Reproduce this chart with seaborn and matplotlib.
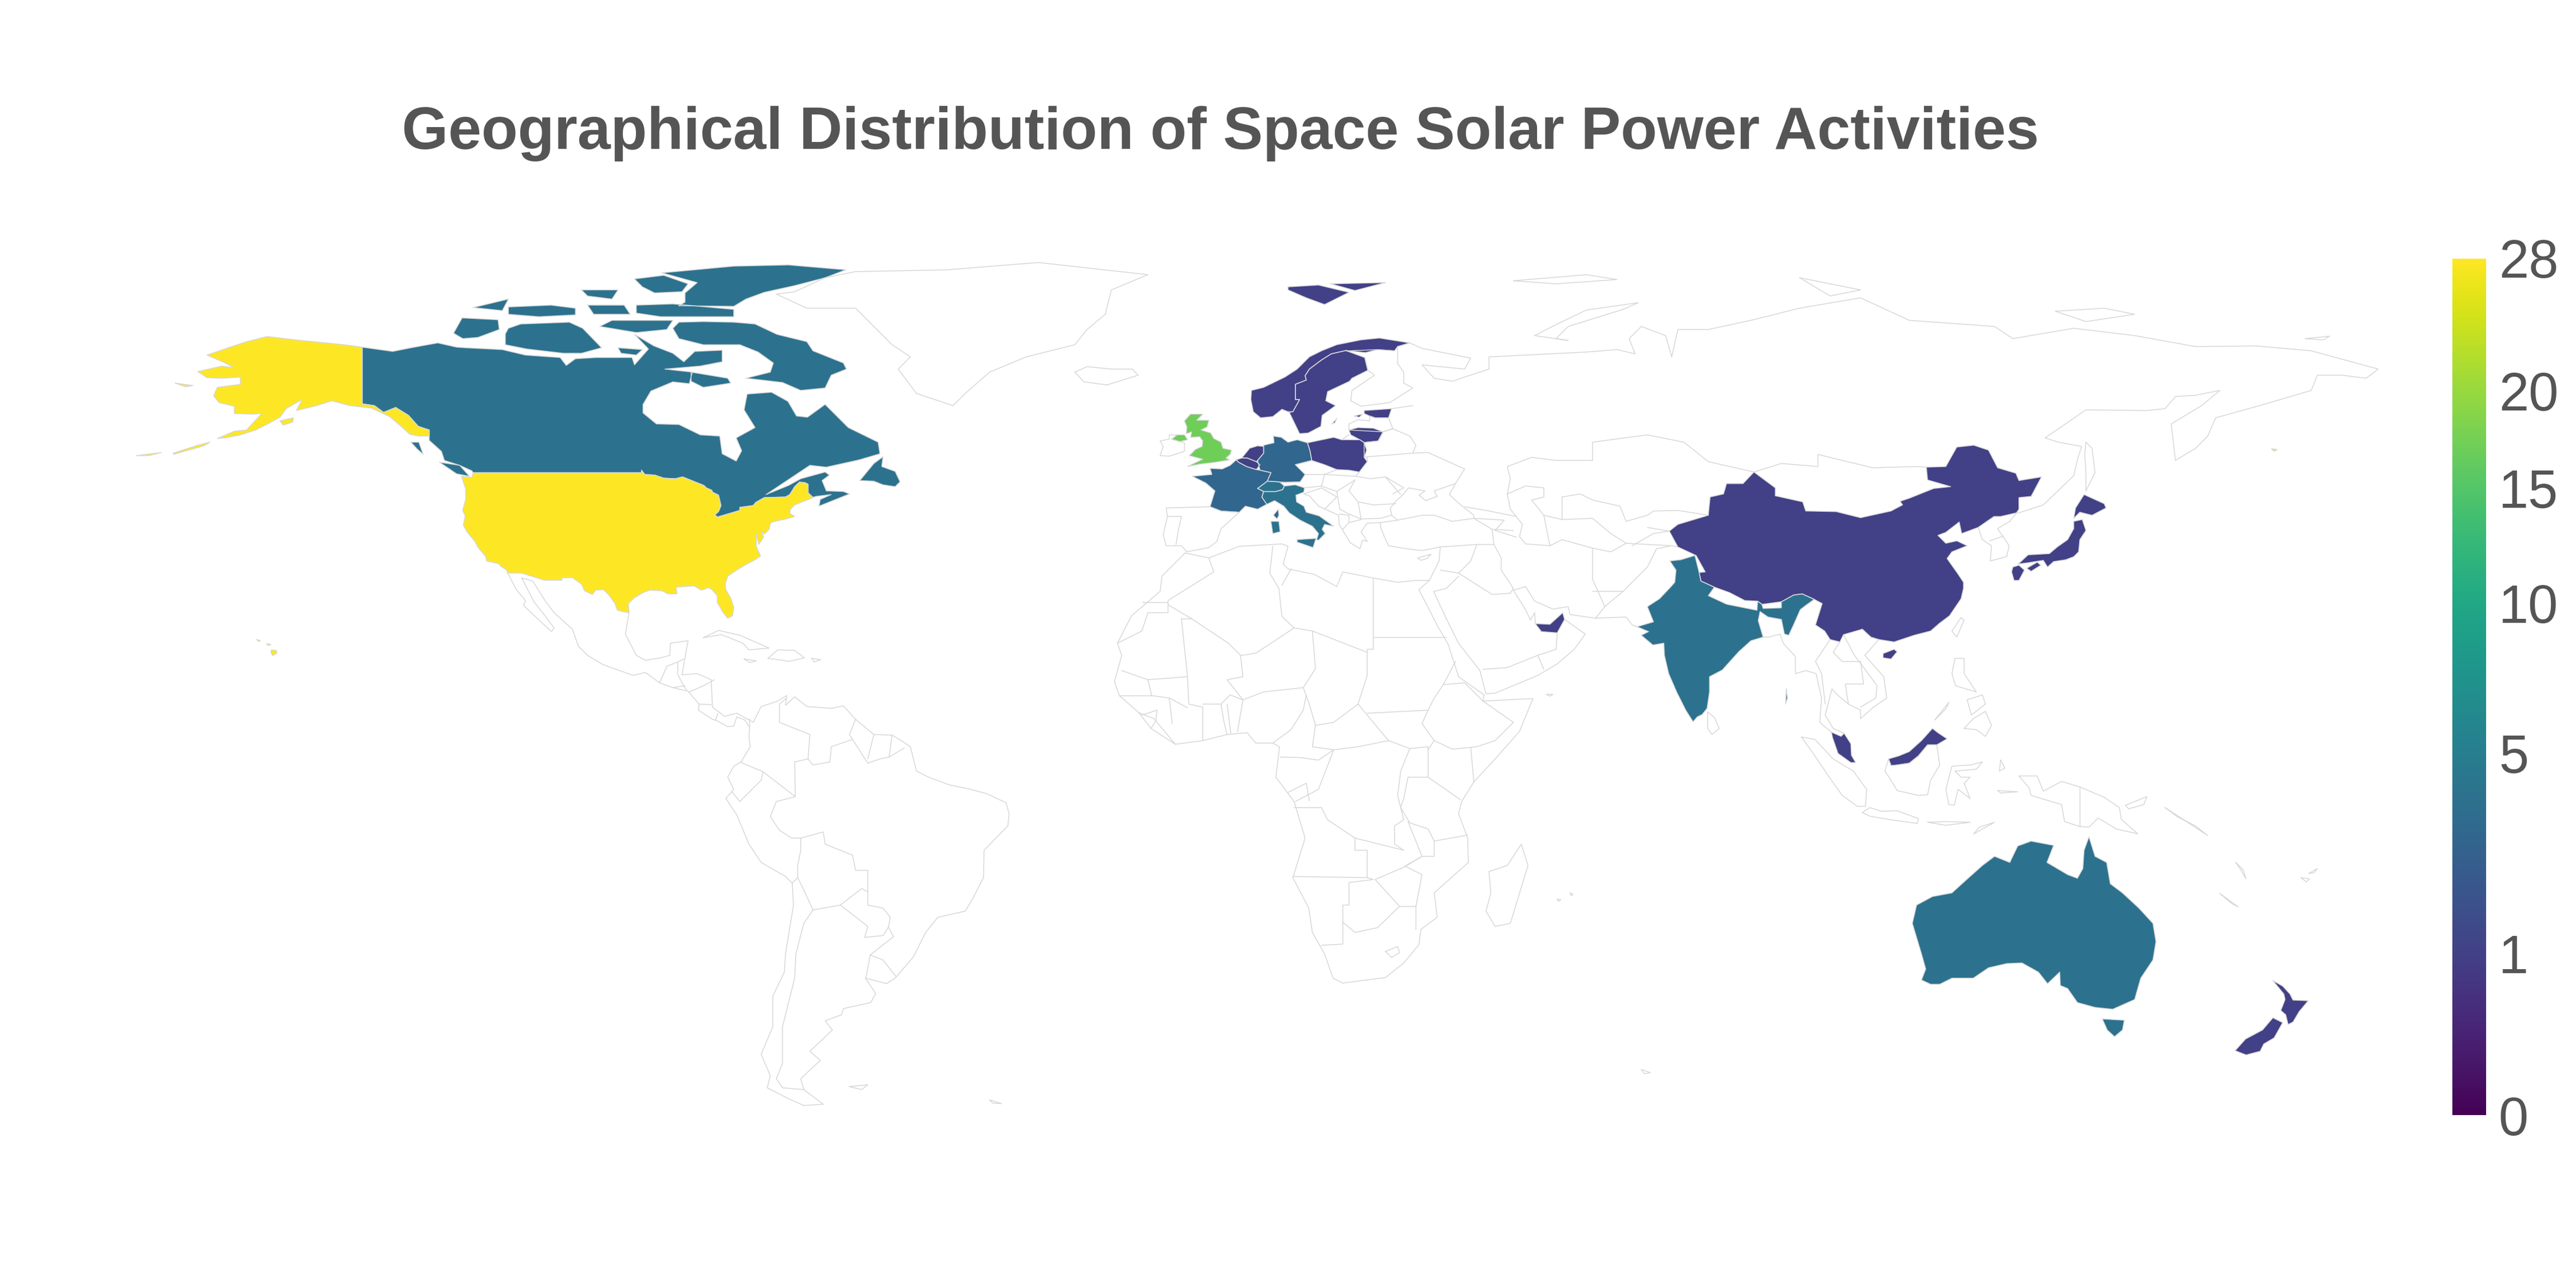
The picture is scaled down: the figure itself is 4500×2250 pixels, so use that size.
"""Geographical distribution of space solar power activities."""
import matplotlib
matplotlib.use("Agg")
import matplotlib.pyplot as plt
from matplotlib.cm import ScalarMappable
from matplotlib.colors import FuncNorm
import numpy as np
import pandas as pd
import seaborn as sns

sns.set_theme(style="white")
plt.rcParams["font.family"] = ["Liberation Sans", "DejaVu Sans"]

GREY = "#d6d6d6"
TEXT = "#555555"
TITLE = "Geographical Distribution of Space Solar Power Activities"

# activity counts
COUNTRIES = ["USA", "Canada", "UK", "Norway", "Sweden", "Estonia", "Lithuania", "Poland", "Germany",
             "Netherlands", "Belgium", "France", "Switzerland", "Italy", "China", "India", "Japan",
             "Malaysia", "UAE", "Australia", "New Zealand"]
ACTIVITIES = [28, 4, 17, 1, 1, 1, 1, 1, 3, 1, 1, 3, 4, 4, 1, 4, 1, 1, 1, 4, 1]
CB_TICKS = [0, 1, 5, 10, 15, 20, 28]

# outlines, all in (lon, lat)
US_MAIN = [(-124.7,48.4),(-123,48.2),(-122.8,49),(-95.15,49),(-95.15,49.4),(-94.6,48.7),(-93,48.6),(-91.5,48.1),(-89.6,48),(-88.4,48.3),(-84.9,46.9),(-84.5,46.5),(-83.6,46.1),(-83.5,45.8),(-82.5,45.3),(-82.1,43.6),(-82.5,42.6),(-83.1,42.1),(-82.7,41.7),(-79,42.8),(-79,43.3),(-76.8,43.6),(-76.4,44.1),(-75,44.9),(-71.5,45),(-70.8,45.4),(-70.3,46.2),(-70,46.7),(-69.2,47.45),(-68.3,47.35),(-67.8,47.1),(-67.8,45.7),(-67,44.9),(-68.5,44.3),(-70,43.7),(-70.7,43),(-70.8,42.3),(-70,41.8),(-71.4,41.4),(-73.7,40.9),(-74,40.6),(-74.2,39.7),(-75,38.9),(-75.5,39.5),(-75.1,38.4),(-75.9,37.2),(-76.3,39),(-76.3,36.9),(-75.6,35.3),(-76.5,34.7),(-78,33.9),(-79.2,33.2),(-81,32),(-81.4,30.7),(-81.3,29.8),(-80.5,28.4),(-80,26.9),(-80.2,25.5),(-81,25.1),(-81.8,26.1),(-82.7,27.7),(-82.7,28.8),(-83.7,29.9),(-84.2,30.1),(-85.3,29.7),(-86.5,30.4),(-88,30.3),(-89.5,30.2),(-89.3,29.1),(-90.8,29.1),(-91.8,29.6),(-93.8,29.7),(-94.9,29.3),(-96.4,28.4),(-97.3,27.5),(-97.2,25.96),(-99.1,26.4),(-99.5,27.5),(-100.5,28.9),(-101.4,29.8),(-102.7,29.7),(-103.2,29),(-104.5,29.6),(-105,30.7),(-106.5,31.75),(-108.2,31.75),(-108.2,31.33),(-111.07,31.33),(-114.8,32.5),(-117.1,32.53),(-117.3,33),(-118.4,33.75),(-118.5,34.03),(-120.6,34.5),(-120.7,35.2),(-121.9,36.6),(-122.5,37.7),(-123.8,39.3),(-124.4,40.4),(-124.1,41.9),(-124.5,42.8),(-124,44.7),(-124,46.3)]
ALASKA = [(-141,69.6),(-141,60.3),(-139,60),(-137.5,58.9),(-135.5,59.7),(-133.4,58.4),(-131.8,56.6),(-130,56),(-130,55),(-131.7,55),(-133.2,55.3),(-134.5,56.5),(-136.5,58.2),(-139.5,59.6),(-143,60),(-146,60.8),(-148.5,60),(-151.8,59.2),(-150.9,61),(-153.5,59.5),(-154.5,58.1),(-156.5,57),(-158.5,56),(-161,55.2),(-163.5,54.7),(-164.8,54.6),(-162,55.8),(-160,56),(-157.5,58.7),(-159,58.6),(-162,58.7),(-162,59.9),(-164.5,60.5),(-165.4,61.6),(-164.8,63),(-161,63.5),(-161,64.7),(-164,64.5),(-166.5,64.6),(-168,65.6),(-164,66.5),(-162,66.2),(-163.7,67.1),(-166.5,68.3),(-163,69.5),(-160,70.5),(-156.6,71.35),(-152,70.8),(-148,70.4),(-144,70)]
KODIAK = [(-154.5,57.5),(-152.3,58),(-152.4,57.3),(-154,56.8)]
ST_LAWRENCE = [(-171.7,63.7),(-168.8,63.3),(-170,63.1)]
ALEUT_EAST = [(-172,52.2),(-168,53.5),(-166,54),(-167,53.4),(-172,52)]
ALEUT_WEST = [(-178,51.8),(-174,52.3),(-176,51.8)]
ATTU = [(172.5,52.9),(173.4,52.8),(172.9,52.5)]
HAWAII = [(-155.9,19.9),(-155.1,19.8),(-155,19.4),(-155.7,18.95),(-156,19.5)]
MAUI = [(-156.7,20.9),(-156,20.8),(-156.4,20.6)]
OAHU = [(-158.3,21.6),(-157.7,21.4),(-158.1,21.3)]
CANADA_MAIN = [(-141,69.6),(-136,68.9),(-133,69.5),(-128.6,70.3),(-125.5,69.6),(-124,69.5),(-118,69.2),(-114.2,68.3),(-108.5,67.9),(-107.5,66.6),(-106,67.7),(-102.6,67.9),(-96.7,67.9),(-96.3,66.7),(-94,69.3),(-96.3,71.7),(-93.1,69.8),(-90,68.6),(-88.2,67.2),(-86.4,68.9),(-81.9,69.1),(-81.9,67.2),(-85.5,66.5),(-91.3,66),(-86.8,65.5),(-87.3,63.6),(-90,63.9),(-93.6,62.4),(-94.9,60.2),(-94.9,58.8),(-92.7,57),(-89,56.9),(-85.5,55.2),(-82.3,55),(-81.9,52.1),(-79.6,50.9),(-78.7,52.6),(-79.6,54.7),(-76.5,56.4),(-78.3,59.3),(-77.8,61.9),(-73.8,62.2),(-71.1,60.7),(-69.7,58.3),(-67.9,58.1),(-65,60.2),(-61.2,56.4),(-56.3,54),(-56,52.1),(-59.4,51.1),(-64.8,49.9),(-67.5,50.2),(-71.1,47.8),(-74.7,45.4),(-71,46.9),(-69,48),(-65,49.1),(-64.3,48.6),(-65.5,47.7),(-64.8,46),(-62,45.9),(-61,45.5),(-66,43.5),(-65.8,44.6),(-64,45.4),(-66.5,45.1),(-67,44.95),(-67.8,45.7),(-67.8,47.1),(-68.3,47.35),(-69.2,47.45),(-70,46.7),(-70.3,46.2),(-70.8,45.4),(-71.5,45),(-75,44.9),(-76.4,44.1),(-76.8,43.6),(-79,43.3),(-79,42.8),(-82.7,41.7),(-83.1,42.1),(-82.5,42.6),(-82.1,43.6),(-82.5,45.3),(-83.5,45.8),(-83.6,46.1),(-84.5,46.5),(-84.9,46.9),(-88.4,48.3),(-89.6,48),(-91.5,48.1),(-93,48.6),(-94.6,48.7),(-95.15,49.4),(-95.15,49),(-122.8,49),(-123,49.3),(-125,50.2),(-127.5,51),(-128,52.5),(-130,54.3),(-130,55),(-130,56),(-131.8,56.6),(-133.4,58.4),(-135.5,59.7),(-137.5,58.9),(-139,60),(-141,60.3)]
BAFFIN = [(-80,73.7),(-76.5,73.4),(-72.9,71.7),(-68,70.5),(-67,69),(-62,67),(-61.5,66),(-64,65),(-65,62.9),(-69,62.5),(-72,63.8),(-78,64.5),(-74,65.5),(-73.5,67),(-76,68.8),(-79,70),(-85,70),(-89,71),(-90,72.7),(-89,73.7),(-85,73.8)]
VICTORIA = [(-117.5,71.8),(-117.5,70),(-114,69.3),(-108,68.6),(-105,68.6),(-101.7,69.5),(-104.8,72.7),(-107,73.7),(-115,73.4),(-117,72.7)]
BANKS = [(-126,71.9),(-124.6,74.4),(-118.7,74.1),(-118.5,72.5),(-122,71.2),(-124.5,71)]
ELLESMERE = [(-89,76.4),(-80,76.3),(-78,77.5),(-75,78.6),(-70,79.7),(-65,81),(-61.6,82.3),(-71,83.1),(-80,82.9),(-91.8,81.8),(-86,80.2),(-88,78.5),(-88,77)]
AXEL = [(-96.3,80.8),(-91.5,81.4),(-87.5,80),(-88.5,78.7),(-93,78.5),(-95,79.5)]
DEVON = [(-96,76.5),(-90,76.7),(-80,75.8),(-80,74.6),(-92,74.6),(-96,75.2)]
MELVILLE = [(-117,76.2),(-110,76.5),(-106,76),(-106,74.9),(-112,74.6),(-117,75)]
BATHURST = [(-104,76.5),(-98,76.5),(-97,75),(-103,75)]
SOMERSET = [(-100,74),(-90,74),(-91,72.5),(-96,72),(-102,73)]
SOUTHAMPTON = [(-87,65.5),(-81,64.5),(-80.5,63.7),(-85,63),(-87,64)]
PATRICK = [(-122.8,76.1),(-117,77.5),(-118,75.6)]
RINGNES = [(-105,79),(-99,79),(-100,77.5),(-104,78)]
KING_WILLIAM = [(-99,69.5),(-95,69.2),(-96,68.3),(-98.5,68.6)]
NEWFOUNDLAND = [(-59.3,47.7),(-57,50.5),(-55.5,51.6),(-55.7,50),(-53.5,49.2),(-52.7,47.5),(-53.5,46.7),(-55.5,47),(-57,47.6)]
VANCOUVER = [(-128.3,50.7),(-125,50.2),(-123.4,48.4),(-125.5,48.8)]
HAIDA = [(-133,54),(-131.7,54),(-131,52),(-132,52.9)]
SVALBARD = [(11,79.5),(16,79.8),(21,78.6),(17,76.6),(14,77.7),(11,79)]
NORDAUST = [(18,80),(27,80.2),(22,78.9)]
NORWAY_MAIN = [(4.9,61),(5,62.5),(7,63),(10.5,64.7),(12.5,66),(14.5,68),(16.5,69),(19,70),(23,70.8),(26,71.1),(31,70.3),(29,69.7),(28.5,69),(25.7,69.2),(23.7,68.7),(20.5,69.05),(18.1,68.5),(16.5,67.5),(14.5,66),(13.8,64.9),(14,64.2),(12.2,63.5),(12.2,61),(12.9,61),(11.8,59),(11,59),(10,59.4),(8.5,58.2),(6.5,58),(5.3,59)]
SWEDEN_MAIN = [(11.2,58.9),(11.8,59),(12.9,61),(12.2,61),(12.2,63.5),(14,64.2),(13.8,64.9),(14.5,66),(16.5,67.5),(18.1,68.5),(20.5,69.05),(23.6,67.9),(24.1,65.8),(21.5,64.5),(21.1,64),(17.5,62.3),(17.2,60.8),(18.8,60),(16.6,58.4),(16.4,56.6),(14.3,55.5),(12.9,55.4)]
GOTLAND = [(18.2,57),(19,57.9),(18.7,57.2)]
ESTONIA_MAIN = [(23.5,59.2),(28,59.5),(27.5,58),(25.3,58),(24.4,58.3),(23.5,58.7)]
SAAREMAA = [(21.9,58.3),(23.2,58.6),(22.7,58.1)]
LITHUANIA_MAIN = [(21,56),(22.5,56.4),(25,56.3),(26.6,55.7),(25.8,54.2),(23.5,53.95),(22.8,54.4),(21.3,55.2)]
POLAND_MAIN = [(14.2,53.9),(18.5,54.8),(19.8,54.4),(22.8,54.4),(23.5,53.95),(23.9,52.7),(23.5,51.5),(24,50.8),(22.7,49.1),(21,49.4),(19,49.5),(17,50.3),(14.9,51),(14.6,52.6)]
GERMANY_MAIN = [(7,53.5),(8.7,53.9),(8.6,55),(9.9,54.8),(11,54),(12.5,54.4),(14.2,53.9),(14.6,52.6),(14.9,51),(12.2,50.3),(13.8,48.7),(13,47.5),(10.5,47.4),(7.6,47.6),(8.2,49),(6.4,49.4),(6,51),(7,52.2)]
NETHERLANDS_MAIN = [(3.4,51.4),(4.7,53),(6,53.4),(7,53.3),(7,52.2),(6,51),(5.8,50.8),(4.3,51.4)]
BELGIUM_MAIN = [(2.5,51.1),(3.4,51.4),(4.3,51.4),(5.8,50.8),(6.4,50.3),(5.8,49.5),(4.2,50),(2.9,50.7)]
FRANCE_MAIN = [(2.5,51.1),(2.9,50.7),(4.2,50),(5.8,49.5),(6.4,49.4),(8.2,49),(7.6,47.6),(6,46.4),(7,45.9),(6.7,45),(7.5,43.8),(6,43),(4,43.5),(3,42.5),(0,42.7),(-1.8,43.4),(-1,46),(-2.5,47.3),(-4.7,48.4),(-1.5,48.7),(-1.8,49.7),(0.2,49.6),(1.5,50.2)]
CORSICA = [(8.6,42),(9.4,43),(9.5,42),(9.2,41.4)]
SWISS_MAIN = [(6,46.4),(7.6,47.6),(9.6,47.5),(10.4,46.8),(10.1,46.2),(9,45.9),(7,45.9)]
ITALY_MAIN = [(7,45.9),(9,45.9),(10.1,46.2),(10.4,46.8),(12.2,47),(13.7,46.5),(13.6,45.8),(12.3,45.3),(12.4,44.2),(13.6,43.5),(14,42.5),(16.1,41.9),(18.5,40.2),(17,40.5),(16.6,39.7),(17.1,39),(16,37.9),(15.7,38),(16,39),(15,40.2),(13,41.2),(11.2,42.4),(10.3,43.5),(8.8,44.4),(7.5,43.8),(6.7,45)]
SICILY = [(12.5,38),(15.6,38.2),(15.1,36.7),(12.5,37.6)]
SARDINIA = [(8.2,41),(9.5,41),(9.7,39.3),(8.5,39)]
BRITAIN = [(-5,58.6),(-3,58.6),(-4,57.6),(-2,57.6),(-2.3,56.5),(-3.3,56),(-1.7,55.5),(-1.2,54.6),(0,54),(0.3,53),(1.7,52.7),(1.5,52),(0.8,51.4),(1.4,51.1),(-1,50.7),(-3.5,50.4),(-5.5,50),(-3,51.2),(-5.2,51.8),(-4.2,52.8),(-3.1,53.3),(-3,54.2),(-3.5,54.9),(-5,54.8),(-4.8,55.7),(-5.7,55.4),(-5.6,56.5),(-6,57.5)]
N_IRELAND = [(-8.1,54.5),(-7.2,55.2),(-6,55.2),(-5.5,54.4),(-6.8,54.1)]
CHINA_MAIN = [(73.6,39.4),(75,40.5),(80,42),(80.3,45),(82.5,45.5),(83,47.2),(85.7,47.2),(87.5,49.1),(91,46.5),(91,45.2),(95.5,44.2),(96,42.7),(101,42.6),(105,41.6),(110,42.7),(111.9,43.7),(111.5,44.3),(113,44.8),(117,46.4),(119.8,46.7),(116,47.8),(115.8,49.9),(119,50),(120.8,53.2),(123.6,53.5),(126,52.7),(127.5,49.8),(130.5,48.9),(131,47.7),(134.7,48.3),(133,45.1),(131,44.9),(131,43),(130.6,42.4),(128,41.8),(126.9,41.8),(124.3,40),(121.6,39),(121.2,40.9),(119,39.2),(117.7,38.7),(119,37.4),(120.8,37.8),(122.5,37),(120,36),(119.2,34.9),(120.9,32.5),(121.9,31),(121.9,30),(121.5,28.3),(119.6,25.5),(118,24.3),(116.5,23),(113.8,22.3),(110.5,21.2),(108,21.6),(106.7,22),(105.3,23.3),(102.2,22.4),(101.6,21.2),(100,21.6),(99.1,23),(97.6,24),(98.7,27.5),(97.4,28.2),(95.4,29.1),(94,28.9),(92,27.8),(89,27.4),(88.8,27.4),(88.1,27.9),(86,28),(83.5,29.3),(81,30.2),(78.8,31.2),(78.5,32.6),(79.5,32.7),(78,35.4),(75,36.8)]
HAINAN = [(108.7,19.3),(110.5,20),(111,19.6),(110,18.4),(108.7,18.6)]
INDIA_MAIN = [(73.7,34.5),(75.5,34.7),(77.8,35.4),(78.5,32.6),(78.8,31.2),(81,30.2),(80,28.8),(83,27.4),(88,26.4),(88.1,27.9),(88.8,27.4),(89,26.7),(92,26.8),(92,27.8),(94,28.9),(95.4,29.1),(97.4,28.2),(96,27.2),(95.1,26.5),(94,24),(93.2,22.3),(92.5,22.5),(92,24.9),(89.8,25.3),(88.5,26.2),(88.2,24.7),(89,22),(87,21.4),(85,19.6),(82.3,16.6),(80.2,15.5),(80.2,13),(79.8,10.3),(79,9.3),(78.2,8.9),(77.5,8.1),(76.3,10),(74.8,13),(73.5,16),(72.8,19),(72.7,21),(70.9,20.7),(69,22.3),(70.2,22.9),(68.3,23.7),(71,24.5),(70,27),(72,28.3),(73.8,30.2),(74.5,31),(74.7,33)]
ANDAMAN = [(92.8,13.5),(93,12),(92.7,11)]
HONSHU = [(130.9,34),(132.5,35.5),(136,35.7),(137.3,36.8),(139,38),(140,39.8),(140,41),(141.4,41.3),(142,39.5),(141,38),(140.8,36),(140,35.2),(138.7,34.7),(136.7,34.4),(135.7,33.5),(135,34.6),(132.5,34.2)]
HOKKAIDO = [(140,41.5),(140.3,43.2),(141.7,45.4),(145,43.9),(145.3,43.2),(143,42),(141,42.5)]
KYUSHU = [(130,33.5),(131,33.8),(131.9,33),(131,31.3),(130.2,31.3),(129.8,32.7)]
SHIKOKU = [(132.3,33.3),(134,34.3),(134.6,33.8),(133,32.8)]
MALAYA = [(100.2,6.4),(101.8,5.7),(102.3,6.2),(103.4,4.5),(103.5,2.6),(104.2,1.4),(103.4,1.4),(101.3,2.9),(100.4,5.5)]
SABAH_SARAWAK = [(109.6,2),(111.3,2.5),(113,3.2),(115,5),(116.8,7),(117.7,6.3),(119.2,5.3),(117.5,4.3),(116,4.3),(114.5,2.5),(113,1.3),(111,1),(110,0.9)]
UAE_MAIN = [(51.6,24.2),(54,24.1),(56.1,26),(56.4,24.9),(55.2,22.7),(52.6,22.9)]
AUS_MAIN = [(114.2,-22),(113.5,-25),(115,-30),(115.7,-32.5),(115,-34.3),(116.5,-35),(118,-35),(120,-34),(123.5,-34),(126,-32.3),(129,-31.6),(131.5,-31.5),(134.2,-33),(135.7,-34.9),(137.7,-33),(137.8,-35.2),(139,-35.7),(140.6,-38),(143.5,-38.8),(146.4,-39.1),(150,-37.5),(151,-34),(153,-31),(153.5,-28),(153,-25),(150.7,-22.5),(148,-20),(146,-18.5),(145.4,-15),(143.5,-14),(142.5,-10.8),(141.7,-13),(141.5,-16),(140.6,-17.6),(139,-17),(135.6,-15),(136.7,-12.2),(133,-11.5),(130.8,-12.3),(129.5,-15),(127,-14),(125,-15.5),(122.2,-18),(120,-20),(116.8,-20.6)]
TASMANIA = [(144.7,-40.7),(148.3,-40.9),(148,-42.5),(146.7,-43.6),(145.5,-42.5)]
NZ_NORTH = [(172.7,-34.4),(174.3,-35.3),(175.5,-36.6),(176,-37.6),(178.5,-37.7),(177,-39.5),(176,-41.2),(175.2,-41.6),(174.8,-40),(174,-39.3),(174.7,-37.5),(174.5,-36.6)]
NZ_SOUTH = [(172.7,-40.5),(174.3,-41.3),(172.9,-43.8),(171.2,-44.8),(170.6,-46),(168.3,-46.6),(166.5,-45.9),(168.2,-44),(171,-42.5)]

SHAPES = {
    "USA": [US_MAIN, ALASKA, KODIAK, ST_LAWRENCE, ALEUT_EAST, ALEUT_WEST, ATTU, HAWAII, MAUI, OAHU],
    "Canada": [CANADA_MAIN, BAFFIN, VICTORIA, BANKS, ELLESMERE, AXEL, DEVON, MELVILLE, BATHURST, SOMERSET,
               SOUTHAMPTON, PATRICK, RINGNES, KING_WILLIAM, NEWFOUNDLAND, VANCOUVER, HAIDA],
    "UK": [BRITAIN, N_IRELAND],
    "Norway": [NORWAY_MAIN, SVALBARD, NORDAUST],
    "Sweden": [SWEDEN_MAIN, GOTLAND],
    "Estonia": [ESTONIA_MAIN, SAAREMAA],
    "Lithuania": [LITHUANIA_MAIN],
    "Poland": [POLAND_MAIN],
    "Germany": [GERMANY_MAIN],
    "Netherlands": [NETHERLANDS_MAIN],
    "Belgium": [BELGIUM_MAIN],
    "France": [FRANCE_MAIN, CORSICA],
    "Switzerland": [SWISS_MAIN],
    "Italy": [ITALY_MAIN, SICILY, SARDINIA],
    "China": [CHINA_MAIN, HAINAN],
    "India": [INDIA_MAIN, ANDAMAN],
    "Japan": [HONSHU, HOKKAIDO, KYUSHU, SHIKOKU],
    "Malaysia": [MALAYA, SABAH_SARAWAK],
    "UAE": [UAE_MAIN],
    "Australia": [AUS_MAIN, TASMANIA],
    "New Zealand": [NZ_NORTH, NZ_SOUTH],
}

# countries with no activity, closed outlines
GREY_RINGS = [
    [(-73,78.3),(-68,76),(-60,76),(-54,70),(-51,68),(-53,66),(-50,62),(-44,60),(-42,62),(-38,65.5),(-32,68),(-24,70),(-22,72.5),(-19,75),(-18,79),(-12,81.5),(-30,83.5),(-45,82.3),(-60,82),(-65,81),(-70,78.7)],
    [(-24,65.5),(-22,66.4),(-18,66),(-14.6,66),(-13.6,65),(-18.7,63.4),(-22.5,63.9)],
    [(-8.1,54.5),(-6.8,54.1),(-6,53.9),(-6,52.5),(-8.5,51.7),(-10,51.8),(-9.5,53.3),(-10,54.2),(-8.5,54.5),(-8.5,55.2),(-7.2,55.2)],
    [(-9,43.2),(-1.8,43.4),(0,42.7),(3,42.5),(0,39.8),(-0.7,37.7),(-2,36.7),(-5.6,36),(-6.5,37),(-9,37),(-9.5,38.8),(-8.8,41.8)],
    [(20.5,69.05),(21,69),(25.7,69.2),(28.5,69),(29,69.7),(29,66.9),(30,65.5),(30,63.7),(31.5,62.9),(27.7,60.5),(23,59.9),(21.3,60.8),(21.5,62.5),(25.2,65),(24.1,65.8),(23.6,67.9)],
    [(21,56),(21,57),(22.5,57.7),(24.4,57.5),(24.4,58.3),(25.3,58),(27.5,58),(28.2,56.2),(26.6,55.7)],
    [(23.5,53.95),(25.8,54.2),(26.6,55.7),(28.2,56.2),(31,55),(32,53.5),(31.5,52.2),(24,51.6),(23.5,51.5)],
    [(47,45.5),(50,46.8),(53,46.5),(53,45),(51,44.5),(53,42),(53.5,39.5),(54,37),(50,37.3),(49,38.5),(49.5,40.5),(47.5,43)],
    [(51.5,71.5),(55,73.3),(60,75.7),(68.5,76.9),(66,75.8),(57,73),(55,71),(57,70.7)],
    [(48,80.5),(60,81.5),(65,80.7),(55,80)],
    [(95,81),(105,79),(100,78)],
    [(137,75.5),(145,76),(150,75),(142,73.8)],
    [(178,71),(182,71.4),(181,70.8)],
    [(142,54),(143,53),(143.5,49),(142,46),(142,49),(141.8,52)],
    [(120,23),(121.5,25.2),(122,24.8),(120.8,22)],
    [(79.9,9.7),(81,8.8),(81.8,7),(80.6,6),(79.9,7)],
    [(32.3,35),(34.5,35.6),(33.8,34.9),(32.8,34.6)],
    [(-85,21.9),(-82.5,23.1),(-79,22.3),(-74.2,20.2),(-77.5,19.9),(-78.5,21),(-82,22.4)],
    [(-74.4,18.5),(-72.8,19.9),(-70,19.8),(-68.4,18.6),(-71,18),(-72,18.2)],
    [(-78.3,18.4),(-76.3,18.1),(-77.3,17.8)],
    [(-67.2,18.5),(-65.7,18.3),(-66.8,17.9)],
    [(-61,-51.8),(-58,-51.5),(-59,-52.3)],
    [(-38,-54),(-36,-54.6),(-37.5,-54.5)],
    [(49.3,-12),(50.4,-15.5),(47.5,-25),(45,-25.5),(43.5,-23),(44.3,-20),(44,-16.5),(47,-15.5)],
    [(27,-29.6),(29,-28.8),(29.3,-29.8),(28,-30.6)],
    [(95.3,5.6),(97.5,5.2),(100.5,2),(103.8,0),(106,-3),(105.8,-5.8),(104.5,-5.8),(102,-4),(100,-1.2),(97.5,2.5)],
    [(105.3,-6.8),(106.5,-6),(108.5,-6.6),(111,-6.5),(114.5,-7.8),(114.3,-8.6),(110,-8),(106.5,-7.4)],
    [(109.6,2),(110,0.9),(111,1),(113,1.3),(114.5,2.5),(116,4.3),(117.5,4.3),(118,1),(116.5,-1.5),(116,-3.9),(114.5,-4),(111,-3.2),(110,-1.5),(109,0)],
    [(119.5,-5.5),(119,-3),(120,0.8),(123,1),(125,1.5),(124,0.3),(120.5,0),(121.5,-1),(123,-1),(122,-2),(123,-4.5),(121,-3),(120.4,-5.6)],
    [(120.5,18.5),(122,18.5),(122,16),(124,13),(120.6,14),(120,16)],
    [(122,7),(123.5,8.6),(125.5,9.8),(126.5,7.5),(125.5,5.7),(124,6.8)],
    [(117.2,8.4),(119.5,11.3),(119,10.2)],
    [(122.5,11.7),(123.2,9.2),(125.5,11),(125,12.5)],
    [(131,-0.8),(134,-0.8),(135,-3.3),(138,-1.7),(141,-2.6),(145,-4.3),(147.5,-6),(147.8,-7.9),(150.5,-10.3),(147,-9.5),(144,-7.7),(142.5,-9.2),(141,-9.1),(138.5,-8.3),(138,-5.5),(133,-4),(132.7,-2.8)],
    [(148.5,-5.6),(152,-4.2),(151.5,-5.5),(149,-6.2)],
    [(123.6,-10.3),(127,-8.4),(124.5,-9.2)],
    [(116,-8.4),(119,-8.3),(123,-8.4),(119,-8.9)],
    [(127.5,-3.2),(130.8,-3.4),(128,-3.6)],
    [(128,1.8),(128.7,0.5),(127.8,0)],
    [(155,-6),(157,-7.5),(160,-9),(162,-10.6),(159,-8.6)],
    [(164,-20.1),(167,-22.3),(166,-21.8)],
    [(166.6,-15),(167.3,-16),(168.3,-17.7),(167.8,-16.2)],
    [(177.3,-17.5),(178.7,-17.7),(178.2,-18.2)],
    [(178.6,-16.8),(180,-16),(179.4,-16.7)],
    [(57.3,-20),(57.8,-20.2),(57.5,-20.5)],
    [(55.2,-21),(55.8,-21.1),(55.4,-21.4)],
    [(69,-49),(70.5,-49.5),(69.5,-49.7)],
    [(53.4,12.6),(54.5,12.6),(54,12.3)],
]

# coasts and land borders as open lines
GREY_LINES = [
    # Americas coast
    [(-117.1,32.5),(-115.7,29.8),(-114.2,28),(-114.5,27.2),(-112.2,25),(-109.9,22.9),(-109.5,23.5),(-111,25.5),(-112.8,27.8),(-114.8,31.7),(-113,31.2),(-111,28),(-109.5,26),(-106.5,23.3),(-105.5,20.5),(-104,19),(-101.5,17.5),(-99,16.6),(-96.5,15.7),(-94.5,16.2),(-92.2,14.5),(-90,13.7),(-87.5,13.1),(-85.7,11),(-85.8,10),(-83.5,8.5),(-82.8,8.3),(-81,7.3),(-80,7.4),(-79.5,8.9),(-78.2,8.4),(-77.4,7.2),(-77.5,5.5),(-77.3,4),(-78.8,1.5),(-80,0.8),(-81,-1),(-80,-3),(-81.3,-4.5),(-79.5,-7.2),(-77.5,-12),(-75.5,-15),(-71.5,-17.3),(-70.4,-18.4),(-70.2,-22),(-71.5,-30),(-71.7,-33),(-73.6,-37),(-73.6,-42),(-75.5,-46.5),(-74,-50),(-74.5,-52),(-71,-53.8),(-68.5,-54.9),(-65.3,-54.7),(-68.5,-52.3),(-69,-50.5),(-65.8,-47.5),(-67.5,-46),(-63.8,-42.5),(-65,-41),(-62.3,-40),(-62,-39),(-57.5,-38),(-56.7,-36.5),(-58.4,-34),(-54.9,-34.9),(-53.5,-34),(-50.5,-30.5),(-48.5,-26.5),(-46.5,-24),(-42,-23),(-40.8,-21),(-39,-17.5),(-38.9,-13),(-35,-9),(-34.8,-7),(-35.3,-5.2),(-38.5,-3.7),(-41.5,-2.9),(-44.5,-2.3),(-48,-1),(-50,0),(-51,4),(-52.5,5),(-54,5.9),(-57,6),(-60,8.5),(-62,10.7),(-64,10.3),(-68,10.6),(-70,12.2),(-71.5,10.8),(-71.3,12.4),(-73,11.4),(-75.5,10.6),(-76.8,8),(-79.5,9.5),(-81.5,9),(-83.5,10.5),(-83.7,15),(-86,16),(-88.5,15.8),(-88.2,17.5),(-87.5,21.4),(-90.4,21),(-90.5,19),(-92,18.6),(-94.5,18.2),(-96,19),(-97.8,22.5),(-97.2,25.96)],
    # Latin American borders
    [(-92.2,14.5),(-91.5,16),(-91,17.2),(-89.2,17.9),(-88.2,18.4)],
    [(-89.2,17.9),(-89.2,15.9),(-88.2,13.9),(-87.7,13.3)],
    [(-90,13.7),(-88,14)],
    [(-87.3,13),(-85,14),(-83.2,15)],
    [(-85.7,11),(-83.7,10.9)],
    [(-83,8.3),(-82.6,9.5)],
    [(-77.4,7.2),(-77.4,8.6)],
    [(-71.3,12),(-72.5,11),(-72.5,8),(-70,7),(-67.5,6),(-67.8,2),(-70,1.5),(-69.9,-4.2)],
    [(-60,8.5),(-61,6),(-60.5,5.2),(-64,4),(-64.2,1.5),(-67,1),(-67.8,2)],
    [(-60.5,5.2),(-58,1.3),(-56,2),(-54.5,2.3),(-52,3.8)],
    [(-57,6),(-58,2)],
    [(-54,5.9),(-54.5,2.3)],
    [(-78.8,1.4),(-75.2,-0.1),(-69.9,-4.2)],
    [(-80.3,-3.4),(-79,-5),(-75.5,-1.5),(-75.2,-0.1)],
    [(-69.9,-4.2),(-73,-5),(-74,-7.5),(-72.5,-9.7),(-70.5,-11),(-69,-11),(-69,-13),(-69.5,-15.5),(-69.5,-17.5),(-70.4,-18.4)],
    [(-69,-11),(-65.3,-10),(-65,-12),(-60.5,-13.8),(-60,-16.3),(-58,-16.3),(-58,-19.8),(-59,-19.3),(-62.5,-22),(-67,-22.8),(-68.5,-19.5),(-69.5,-17.5)],
    [(-67,-22.8),(-68.5,-25),(-69.8,-30),(-70,-34),(-71,-38),(-72,-42),(-72,-48),(-73,-50.5),(-72,-52),(-68.5,-52.3)],
    [(-62.5,-22),(-58,-25.5),(-58.5,-27.3),(-55.5,-27),(-54.6,-25.6),(-53.8,-27.2),(-57.6,-30.2),(-58.3,-34)],
    [(-58,-19.8),(-58,-22),(-55.5,-22.5),(-54.3,-24),(-54.6,-25.6)],
    [(-57.6,-30.2),(-55.5,-31),(-53.4,-33.7)],
    # Africa coast
    [(-5.9,35.8),(-2,35),(3,36.9),(10,37.3),(11,36.9),(10.2,34),(11,33.2),(15.3,32.3),(19,30.3),(20,32.7),(25,31.7),(29,31),(32,31.3),(34.2,31.3),(32.5,29.8),(35.5,23.9),(37.3,20.8),(39,15.5),(43.2,12.5),(43,11.5),(51.2,11.9),(49,6.5),(45,2),(41.5,-1.8),(39.5,-5),(39,-7),(40.5,-11),(40.6,-15),(35,-20),(35.5,-24),(32.8,-26),(32.5,-28.5),(30,-31.5),(27,-33.9),(20,-34.8),(18.4,-34),(17,-30),(15,-26.5),(14.4,-22.5),(11.8,-17.5),(13.8,-11),(12,-5),(9,-1),(9.6,4),(8.5,4.6),(5.7,4.6),(4.3,6.3),(1,6),(-3,5),(-7.5,4.4),(-11.5,7),(-13.5,9.6),(-16.7,12.4),(-17.5,14.7),(-16.3,19),(-17,21),(-14.7,25.5),(-10,29.5),(-9.7,32),(-5.9,35.8)],
    # Africa borders
    [(-2,35),(-1.2,32.7),(-8.7,28),(-8.7,26),(-12,26),(-13,23),(-17,21)],
    [(-13,27.7),(-8.7,27.7)],
    [(-8.7,27.3),(-4.8,25),(1.2,21),(3.2,19),(4.2,19.1),(5.8,19.4),(12,23.5)],
    [(-4.8,25),(-6.5,25),(-5.5,15.5),(-12,15),(-16.3,16.5)],
    [(8.5,36.9),(8,32.5),(9.5,30),(10,25.4),(12,23.5),(15,23),(24,19.5),(24,20),(25,20),(25,31.6)],
    [(11.5,33.2),(10,30.5)],
    [(25,22),(36.9,22)],
    [(24,19.5),(24,15.7),(22.5,11)],
    [(3.2,19),(3.6,15.5),(1,15),(3.6,11.7),(7,13),(13.5,13.7),(15.5,16.8),(15,23)],
    [(13.5,13.7),(14.5,11),(15.5,7.5),(18.5,8),(22.5,11),(27.5,5)],
    [(14,12.5),(13.5,10),(11.5,6.8),(8.5,4.6)],
    [(2.7,6.4),(3.6,11.7)],
    [(-5.5,15.5),(-5.3,11),(-3,10.5),(-3,5)],
    [(-12,15),(-11.4,12.4),(-8.5,12),(-5.5,10.4)],
    [(-3,11),(0,11),(1.5,12.5),(3.6,11.7)],
    [(0,11),(0.5,8),(1,6)],
    [(1,11),(1.6,6.2)],
    [(-13.5,9.6),(-11,8.6),(-7.5,4.4)],
    [(-8,7.8),(-8.5,12)],
    [(-16.7,12.4),(-11.4,12.4)],
    [(-13,9.2),(-10.5,10),(-10.7,8.3),(-11.5,7)],
    [(24,9.5),(34,10),(35,12),(36.5,14.2),(38.5,18)],
    [(34,10),(33,7.8),(35,5),(34,3.5)],
    [(27.5,5),(31,3.7),(34,4),(34,-1),(39.3,-4.7)],
    [(15.5,7.5),(15,4),(18.5,3.5),(22.5,4),(27.5,5)],
    [(36.5,14.2),(40,14.5),(43,11.5),(48,8),(45,5),(42,4),(38,3.6),(35,5)],
    [(41.5,-1.7),(41,3.9)],
    [(9.7,2.3),(13.2,2.2),(16,1.8),(18.5,3.5),(16,-3),(12.2,-5)],
    [(11,-3.5),(14,-2),(14.5,-4.9)],
    [(31,3.7),(29.5,0),(29,-4),(30,-8),(28.5,-9),(28.5,-12),(30,-13),(22,-11)],
    [(12,-6),(16.5,-6),(17.5,-8),(22,-11),(22,-13),(24,-13),(24,-17.5),(11.8,-17.3)],
    [(24,-17.5),(25,-17.8),(21,-18.3),(21,-22),(20,-22),(20,-28.4),(16.5,-28.6)],
    [(25.3,-17.8),(29.3,-22.2),(25.7,-25.7),(22,-26.5),(20,-24.8)],
    [(25.3,-17.8),(30,-15.8),(33,-14),(30.7,-8.3)],
    [(40.5,-10.5),(35,-11.5),(35,-14),(33,-14),(30.2,-15.6),(33,-17),(32,-22.2),(32,-26)],
    [(29.3,-22.2),(32,-22.2)],
    [(34,-1),(30.7,-1),(30,-4.5),(29.5,-6),(31,-8.5),(34,-9.5),(35,-11.5)],
    # Portugal and eastern Europe
    [(-8.8,41.8),(-6.5,41.8),(-7,39.5),(-7.4,37.2)],
    [(19.8,54.4),(21,55.2)],
    [(24,51.6),(24,50.8)],
    [(31.5,52.2),(34,52.3),(40,49.6),(38.5,47.2)],
    [(22.7,49.1),(22.1,48.4),(24.5,48),(27,48.3),(29.5,45.4)],
    [(27,48.3),(30,46.5),(28.2,45.5)],
    [(12.2,50.3),(14.9,51)],
    [(13.8,48.7),(17,48.7),(19,49.5)],
    [(17,48.7),(22.1,48.4)],
    [(9.6,47.5),(13,47.5)],
    [(17,48.7),(16.5,46.8),(13.7,46.5)],
    [(16.5,46.8),(19,45.9),(22,47.8)],
    [(22,47.8),(21,46),(22.5,44.2),(25,43.7),(28.7,43.9)],
    [(22.5,44.2),(23,41.4),(26.2,41.5),(28,42)],
    [(19,45.9),(19.5,43),(21,42.2),(23,41.4)],
    [(20,39.7),(21,40.8),(23,41.3)],
    [(19.4,42.2),(21,42),(21,40.8)],
    [(13.6,45.5),(16.5,46.5),(19,45),(17,43)],
    # Adriatic, Aegean, Black Sea and Turkey
    [(13.6,45.5),(14.5,45.2),(16,43.5),(19.3,42),(19.4,40.5),(20,39.5),(21.2,37.5),(22.8,36.5),(23.2,37.9),(24,37.7),(23,39.3),(24,40.7),(26.2,40.8),(26.2,40.1),(26.8,38.5),(27.5,37),(30.5,36.5),(33,36.2),(36,36.8),(35.8,34.5),(34.2,31.3)],
    [(29,41.2),(28,42),(27.8,43.2),(28.7,44.3),(29.7,45.2),(30.8,46.5),(33.5,46),(32.5,45.3),(33.6,44.4),(35.5,45.1),(35,46),(38.5,47.2),(37.5,45.4),(39,44),(41.5,42),(41.5,41.5),(38,41),(35,42),(33,42),(29,41.2),(26.2,40.8)],
    # Middle East and Central Asia
    [(41.5,41.5),(44.5,39.7),(44.8,37.2),(42,37.2),(36,36.8)],
    [(40,43.4),(44,42.7),(48.5,41.8)],
    [(41.5,41.5),(46.5,41.2),(45,39.5),(48.5,38.4)],
    [(44.5,39.7),(48,39.5)],
    [(44.8,37.2),(46,35),(46,33),(48,30)],
    [(54,37),(56,38),(61,36.6),(61,31.5),(63,27),(61.5,25.1)],
    [(42,37.2),(41,34.5),(39,32.5),(44.5,29),(47.5,29.2),(48,30)],
    [(36,33),(39,32.5)],
    [(39,32),(37,30),(35,29.5)],
    [(34.9,29.5),(37,25),(39,21),(42.5,16.5),(43.5,12.7),(45,12.8),(52,15.7),(55.2,17.6),(58,20),(59.8,22.5),(56.4,24.9)],
    [(51.6,24.2),(51.5,26),(50.8,24.8),(50,26.5),(48,29.7),(50,30.3),(51.5,27.9),(54.5,26.6),(57,27),(57.3,25.7),(61.5,25.1),(66.5,25.3),(67.5,24),(68.3,23.7)],
    [(43,16.7),(47,17),(52,19),(55,20),(55.2,22.7)],
    [(52,19),(53,16.7)],
    [(47,45.5),(47.5,48),(47,50),(51,51.5),(55,51),(61,51),(61,54),(70,55.2),(76,54),(80,50.8),(87.5,49.1)],
    [(53,42),(56,41.3),(56,45),(59,45.5),(61,44.5),(65.5,43.5),(66.5,41),(70,42),(71,42.7),(75,42.8),(80,42)],
    [(56,41.3),(61,41.5),(64,39),(66.5,37.4)],
    [(61,36.6),(64,36),(66.5,37.4),(74,37),(75,36.8)],
    [(61,29.5),(66,29.5),(70,33.5),(71.5,36.5),(74,37)],
    [(66,29.5),(63,27)],
    [(67.5,37),(71,39),(73.6,39.4)],
    [(70,40),(73.6,39.4)],
    [(87.5,49.1),(92,50.5),(98,50),(98,52),(102,51),(107,49.8),(114,50),(115.8,49.9)],
    # Russia, Baltic to Chukotka and Pacific coast
    [(31,70.3),(33,69.4),(41,67.8),(40,66),(35,66.5),(33,66.7),(35,64.5),(38,64),(40,64.7),(44,66),(44,68),(54,68.5),(60,68.8),(65,69.2),(68,68.5),(67,71),(69,73),(73,71.5),(74,68),(75,72.5),(80,72.5),(87,74),(95,76),(105,77.7),(113,74),(127,73),(130,71),(140,72.7),(150,71.5),(160,69.7),(170,69.8),(179,69),(190,66),(188,64.5),(184,65),(180,65),(179,62.5),(170.5,60),(163.3,58),(162,55),(160,53),(156.7,51),(156,57),(161,60),(164,62.5),(160,61.7),(156.7,61.5),(155,59.5),(152,59.2),(142,59.3),(135.3,54.7),(137.5,54),(141.3,53.3),(140.7,51.5),(140,48.5),(135,43.7),(130.7,42.3)],
    [(31.5,60),(28,59.5)],
    [(29,69.7),(31,70.3)],
    # Korea
    [(124.3,40),(125,38),(126.5,37),(126.3,34.5),(129,35.2),(129.4,37),(127.5,39.8),(129.5,41),(130.6,42.4)],
    [(126.2,37.8),(128.5,38.6)],
    # South East Asia
    [(108,21.6),(105.7,19),(108.8,15.5),(109.3,12),(107,10.4),(105,8.6),(105,10),(103,11),(101,12.7),(100.3,13.5),(99.2,9.2),(100.5,7),(102.3,6.2)],
    [(100.2,6.4),(98.3,8),(98.6,12),(97.7,16),(96,16.5),(94.3,16),(94.3,18.8),(92.3,21),(91.8,22.5),(90,22),(89,22)],
    [(100,21.6),(97.6,18),(98.6,16),(99.2,11)],
    [(101.6,21.2),(100.5,19.5),(102,18),(105,18),(105.5,14.3),(102.5,14.3),(103,11)],
    [(102.2,22.4),(104,19),(107,15),(107.7,14),(107.5,12),(105,10.5)],
    [(141,-2.6),(141,-9.1)],
]

lon_scale = 10.64  # pixels per degree, same both ways
lon_zero, lat_zero = 2133, 1347
W, H = 4500, 2250

cmap = sns.color_palette("viridis", as_cmap=True)
norm = FuncNorm((np.sqrt, np.square), vmin=0, vmax=28)

fig = plt.figure(figsize=(15, 7.5), dpi=300, facecolor="white")
ax = fig.add_axes([0, 0, 1, 1])

# filled countries
rows = []
ring_id = 0
for name, value in zip(COUNTRIES, ACTIVITIES):
    for ring in SHAPES[name]:
        xs, ys = zip(*ring)
        ax.fill(xs, ys, color=cmap(norm(value)), lw=0, zorder=2)
        for x, y in list(ring) + [ring[0]]:
            rows.append((ring_id, x, y))
        ring_id += 1

for ring in GREY_RINGS:
    for x, y in list(ring) + [ring[0]]:
        rows.append((ring_id, x, y))
    ring_id += 1
for line in GREY_LINES:
    for x, y in line:
        rows.append((ring_id, x, y))
    ring_id += 1

outlines = pd.DataFrame(rows, columns=["ring", "lon", "lat"])
sns.lineplot(data=outlines, x="lon", y="lat", units="ring", estimator=None, sort=False,
             color=GREY, lw=0.35, ax=ax, legend=False, zorder=3)

ax.set_xlim(-lon_zero / lon_scale, (W - lon_zero) / lon_scale)
ax.set_ylim((lat_zero - H) / lon_scale, lat_zero / lon_scale)
ax.axis("off")

fig.text(2132 / W, 1 - 234 / H, TITLE, ha="center", va="center", fontsize=25,
         fontweight="bold", color=TEXT)

# colorbar, square root spacing
cax = fig.add_axes([4283 / W, 1 - 1949 / H, 61 / W, 1498 / H])
cb = fig.colorbar(ScalarMappable(norm=norm, cmap=cmap), cax=cax, ticks=CB_TICKS)
cb.ax.set_yticklabels([str(t) for t in CB_TICKS])
cb.ax.tick_params(axis="y", direction="in", color="white", length=3, width=0.4, left=True, right=True,
                  labelsize=22.5, labelcolor=TEXT, pad=5)
cb.ax.minorticks_off()
cb.outline.set_edgecolor("white")
cb.outline.set_linewidth(0.5)

fig.savefig("out.png", dpi=300)
